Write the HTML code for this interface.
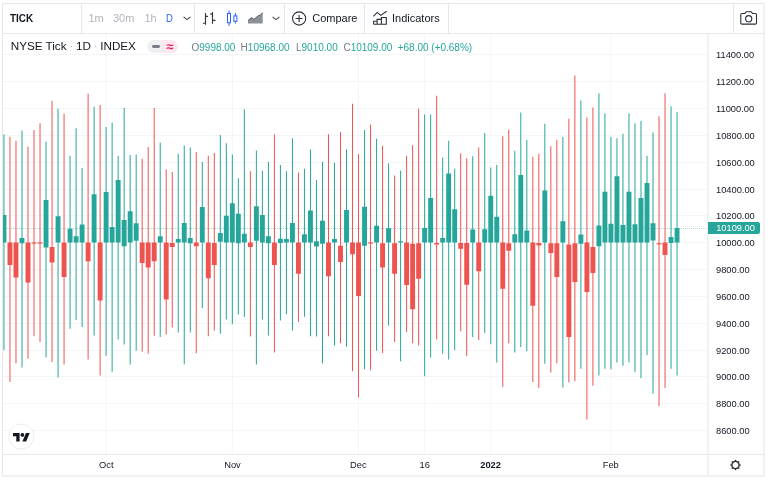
<!DOCTYPE html>
<html><head><meta charset="utf-8"><title>NYSE Tick chart</title>
<style>
html,body{margin:0;padding:0;background:#fff;}
body{width:768px;height:481px;overflow:hidden;position:relative;font-family:"Liberation Sans",Arial,sans-serif;color:#131722;}
.a{position:absolute;white-space:nowrap;}
.ln{position:absolute;background:#e6e7ea;}
.l2{background:#f0f1f3;}
.tb{font-size:11px;line-height:13px;}
.lg{font-size:11.7px;line-height:13px;}
.px{font-size:9.3px;line-height:11px;color:#131722;}
.tx{font-size:9.3px;line-height:11px;color:#131722;}
svg{position:absolute;left:0;top:0;overflow:visible;}
</style></head>
<body>
<!-- chart pane -->
<svg width="768" height="481" viewBox="0 0 768 481" style="left:0;top:0">
<defs><clipPath id="cp"><rect x="3" y="34" width="705" height="420"/></clipPath></defs>
<g clip-path="url(#cp)">
<rect x="3" y="54" width="705" height="1" fill="#f4f5f7"/>
<rect x="3" y="81" width="705" height="1" fill="#f4f5f7"/>
<rect x="3" y="108" width="705" height="1" fill="#f4f5f7"/>
<rect x="3" y="135" width="705" height="1" fill="#f4f5f7"/>
<rect x="3" y="162" width="705" height="1" fill="#f4f5f7"/>
<rect x="3" y="189" width="705" height="1" fill="#f4f5f7"/>
<rect x="3" y="215" width="705" height="1" fill="#f4f5f7"/>
<rect x="3" y="242" width="705" height="1" fill="#f4f5f7"/>
<rect x="3" y="269" width="705" height="1" fill="#f4f5f7"/>
<rect x="3" y="296" width="705" height="1" fill="#f4f5f7"/>
<rect x="3" y="323" width="705" height="1" fill="#f4f5f7"/>
<rect x="3" y="350" width="705" height="1" fill="#f4f5f7"/>
<rect x="3" y="376" width="705" height="1" fill="#f4f5f7"/>
<rect x="3" y="403" width="705" height="1" fill="#f4f5f7"/>
<rect x="3" y="430" width="705" height="1" fill="#f4f5f7"/>
<rect x="105.62" y="34" width="1" height="420" fill="#f4f5f7"/>
<rect x="231.83" y="34" width="1" height="420" fill="#f4f5f7"/>
<rect x="358.03" y="34" width="1" height="420" fill="#f4f5f7"/>
<rect x="424.14" y="34" width="1" height="420" fill="#f4f5f7"/>
<rect x="490.25" y="34" width="1" height="420" fill="#f4f5f7"/>
<rect x="610.44" y="34" width="1" height="420" fill="#f4f5f7"/>
<line x1="3" y1="228.5" x2="708" y2="228.5" stroke="#26a69a" stroke-width="1" stroke-dasharray="1 1" opacity="0.4"/>
<rect x="3.46" y="134.50" width="1" height="215.50" fill="#26a69a"/>
<rect x="1.51" y="215.00" width="4.9" height="27.50" fill="#26a69a"/>
<rect x="9.47" y="136.75" width="1" height="245.25" fill="#ef5350"/>
<rect x="7.52" y="242.50" width="4.9" height="22.50" fill="#ef5350"/>
<rect x="15.48" y="140.75" width="1" height="222.50" fill="#ef5350"/>
<rect x="13.53" y="242.50" width="4.9" height="35.00" fill="#ef5350"/>
<rect x="21.49" y="130.50" width="1" height="237.00" fill="#26a69a"/>
<rect x="19.54" y="238.00" width="4.9" height="5.25" fill="#26a69a"/>
<rect x="27.5" y="146.75" width="1" height="212.00" fill="#ef5350"/>
<rect x="25.55" y="242.50" width="4.9" height="40.00" fill="#ef5350"/>
<rect x="33.51" y="130.00" width="1" height="206.25" fill="#ef5350"/>
<rect x="31.56" y="242.40" width="4.9" height="1.20" fill="#ef5350"/>
<rect x="39.52" y="123.25" width="1" height="218.75" fill="#ef5350"/>
<rect x="37.57" y="242.40" width="4.9" height="1.20" fill="#ef5350"/>
<rect x="45.53" y="141.75" width="1" height="215.75" fill="#26a69a"/>
<rect x="43.58" y="200.00" width="4.9" height="47.50" fill="#26a69a"/>
<rect x="51.54" y="100.75" width="1" height="261.25" fill="#ef5350"/>
<rect x="49.59" y="247.00" width="4.9" height="15.50" fill="#ef5350"/>
<rect x="57.55" y="108.75" width="1" height="268.75" fill="#26a69a"/>
<rect x="55.6" y="216.25" width="4.9" height="26.25" fill="#26a69a"/>
<rect x="63.56" y="113.75" width="1" height="250.75" fill="#ef5350"/>
<rect x="61.61" y="242.50" width="4.9" height="34.50" fill="#ef5350"/>
<rect x="69.57" y="155.75" width="1" height="173.00" fill="#26a69a"/>
<rect x="67.62" y="228.75" width="4.9" height="13.75" fill="#26a69a"/>
<rect x="75.58" y="128.25" width="1" height="191.75" fill="#26a69a"/>
<rect x="73.63" y="236.25" width="4.9" height="6.25" fill="#26a69a"/>
<rect x="81.59" y="168.00" width="1" height="159.00" fill="#26a69a"/>
<rect x="79.64" y="224.50" width="4.9" height="18.00" fill="#26a69a"/>
<rect x="87.6" y="93.75" width="1" height="265.75" fill="#ef5350"/>
<rect x="85.65" y="242.50" width="4.9" height="18.75" fill="#ef5350"/>
<rect x="93.61" y="106.75" width="1" height="228.75" fill="#26a69a"/>
<rect x="91.66" y="194.25" width="4.9" height="48.25" fill="#26a69a"/>
<rect x="99.62" y="105.00" width="1" height="270.50" fill="#ef5350"/>
<rect x="97.67" y="242.50" width="4.9" height="58.00" fill="#ef5350"/>
<rect x="105.62" y="127.00" width="1" height="228.75" fill="#26a69a"/>
<rect x="103.67" y="192.00" width="4.9" height="50.50" fill="#26a69a"/>
<rect x="111.63" y="122.50" width="1" height="249.25" fill="#26a69a"/>
<rect x="109.68" y="227.00" width="4.9" height="15.50" fill="#26a69a"/>
<rect x="117.64" y="155.75" width="1" height="183.75" fill="#26a69a"/>
<rect x="115.69" y="180.00" width="4.9" height="62.50" fill="#26a69a"/>
<rect x="123.65" y="108.00" width="1" height="236.50" fill="#26a69a"/>
<rect x="121.7" y="220.00" width="4.9" height="26.25" fill="#26a69a"/>
<rect x="129.66" y="155.00" width="1" height="209.50" fill="#26a69a"/>
<rect x="127.71" y="211.25" width="4.9" height="31.25" fill="#26a69a"/>
<rect x="135.67" y="154.50" width="1" height="196.25" fill="#26a69a"/>
<rect x="133.72" y="223.25" width="4.9" height="17.50" fill="#26a69a"/>
<rect x="141.68" y="158.75" width="1" height="193.00" fill="#ef5350"/>
<rect x="139.73" y="242.50" width="4.9" height="20.50" fill="#ef5350"/>
<rect x="147.69" y="147.00" width="1" height="206.75" fill="#ef5350"/>
<rect x="145.74" y="242.50" width="4.9" height="25.00" fill="#ef5350"/>
<rect x="153.7" y="108.00" width="1" height="227.75" fill="#ef5350"/>
<rect x="151.75" y="242.50" width="4.9" height="18.75" fill="#ef5350"/>
<rect x="159.71" y="142.50" width="1" height="194.50" fill="#26a69a"/>
<rect x="157.76" y="236.25" width="4.9" height="6.25" fill="#26a69a"/>
<rect x="165.72" y="169.50" width="1" height="165.00" fill="#ef5350"/>
<rect x="163.77" y="242.50" width="4.9" height="57.00" fill="#ef5350"/>
<rect x="171.73" y="172.00" width="1" height="155.50" fill="#ef5350"/>
<rect x="169.78" y="243.00" width="4.9" height="4.00" fill="#ef5350"/>
<rect x="177.74" y="153.75" width="1" height="178.75" fill="#26a69a"/>
<rect x="175.79" y="239.00" width="4.9" height="3.50" fill="#26a69a"/>
<rect x="183.75" y="145.50" width="1" height="218.75" fill="#26a69a"/>
<rect x="181.8" y="223.00" width="4.9" height="19.50" fill="#26a69a"/>
<rect x="189.76" y="147.50" width="1" height="185.00" fill="#26a69a"/>
<rect x="187.81" y="238.00" width="4.9" height="5.25" fill="#26a69a"/>
<rect x="195.77" y="152.00" width="1" height="201.25" fill="#ef5350"/>
<rect x="193.82" y="242.50" width="4.9" height="3.75" fill="#ef5350"/>
<rect x="201.78" y="162.00" width="1" height="146.00" fill="#26a69a"/>
<rect x="199.83" y="207.00" width="4.9" height="35.50" fill="#26a69a"/>
<rect x="207.79" y="155.75" width="1" height="180.50" fill="#ef5350"/>
<rect x="205.84" y="242.50" width="4.9" height="35.75" fill="#ef5350"/>
<rect x="213.8" y="153.00" width="1" height="177.50" fill="#ef5350"/>
<rect x="211.85" y="243.00" width="4.9" height="22.00" fill="#ef5350"/>
<rect x="219.81" y="135.00" width="1" height="198.75" fill="#26a69a"/>
<rect x="217.86" y="233.00" width="4.9" height="8.75" fill="#26a69a"/>
<rect x="225.82" y="143.25" width="1" height="176.25" fill="#26a69a"/>
<rect x="223.87" y="215.75" width="4.9" height="26.75" fill="#26a69a"/>
<rect x="231.83" y="154.50" width="1" height="169.75" fill="#26a69a"/>
<rect x="229.88" y="203.25" width="4.9" height="39.25" fill="#26a69a"/>
<rect x="237.84" y="178.25" width="1" height="136.25" fill="#26a69a"/>
<rect x="235.89" y="213.75" width="4.9" height="29.50" fill="#26a69a"/>
<rect x="243.85" y="109.25" width="1" height="207.75" fill="#26a69a"/>
<rect x="241.9" y="233.75" width="4.9" height="8.75" fill="#26a69a"/>
<rect x="249.86" y="171.25" width="1" height="165.25" fill="#ef5350"/>
<rect x="247.91" y="242.50" width="4.9" height="4.50" fill="#ef5350"/>
<rect x="255.87" y="150.50" width="1" height="214.00" fill="#26a69a"/>
<rect x="253.92" y="206.25" width="4.9" height="34.50" fill="#26a69a"/>
<rect x="261.88" y="170.75" width="1" height="148.75" fill="#26a69a"/>
<rect x="259.93" y="215.00" width="4.9" height="27.50" fill="#26a69a"/>
<rect x="267.89" y="161.75" width="1" height="173.75" fill="#26a69a"/>
<rect x="265.94" y="236.25" width="4.9" height="7.00" fill="#26a69a"/>
<rect x="273.9" y="134.50" width="1" height="218.00" fill="#ef5350"/>
<rect x="271.95" y="242.50" width="4.9" height="22.50" fill="#ef5350"/>
<rect x="279.91" y="165.00" width="1" height="155.50" fill="#26a69a"/>
<rect x="277.96" y="238.75" width="4.9" height="4.25" fill="#26a69a"/>
<rect x="285.92" y="171.25" width="1" height="143.00" fill="#26a69a"/>
<rect x="283.97" y="239.00" width="4.9" height="3.50" fill="#26a69a"/>
<rect x="291.93" y="138.25" width="1" height="192.25" fill="#26a69a"/>
<rect x="289.98" y="223.00" width="4.9" height="19.50" fill="#26a69a"/>
<rect x="297.94" y="172.50" width="1" height="149.50" fill="#ef5350"/>
<rect x="295.99" y="242.50" width="4.9" height="31.25" fill="#ef5350"/>
<rect x="303.94" y="168.75" width="1" height="148.00" fill="#26a69a"/>
<rect x="301.99" y="234.25" width="4.9" height="8.25" fill="#26a69a"/>
<rect x="309.95" y="149.50" width="1" height="186.75" fill="#26a69a"/>
<rect x="308.0" y="210.50" width="4.9" height="32.00" fill="#26a69a"/>
<rect x="315.96" y="180.00" width="1" height="156.50" fill="#26a69a"/>
<rect x="314.01" y="241.25" width="4.9" height="5.25" fill="#26a69a"/>
<rect x="321.97" y="161.75" width="1" height="201.50" fill="#26a69a"/>
<rect x="320.02" y="220.75" width="4.9" height="23.00" fill="#26a69a"/>
<rect x="327.98" y="134.25" width="1" height="202.00" fill="#ef5350"/>
<rect x="326.03" y="242.50" width="4.9" height="33.75" fill="#ef5350"/>
<rect x="333.99" y="162.50" width="1" height="183.00" fill="#26a69a"/>
<rect x="332.04" y="239.00" width="4.9" height="3.50" fill="#26a69a"/>
<rect x="340.0" y="132.00" width="1" height="211.25" fill="#ef5350"/>
<rect x="338.05" y="245.75" width="4.9" height="16.25" fill="#ef5350"/>
<rect x="346.01" y="149.50" width="1" height="197.25" fill="#26a69a"/>
<rect x="344.06" y="210.00" width="4.9" height="32.50" fill="#26a69a"/>
<rect x="352.02" y="103.75" width="1" height="267.50" fill="#ef5350"/>
<rect x="350.07" y="242.50" width="4.9" height="11.75" fill="#ef5350"/>
<rect x="358.03" y="154.25" width="1" height="243.25" fill="#ef5350"/>
<rect x="356.08" y="242.50" width="4.9" height="53.50" fill="#ef5350"/>
<rect x="364.04" y="130.00" width="1" height="239.25" fill="#26a69a"/>
<rect x="362.09" y="206.75" width="4.9" height="39.00" fill="#26a69a"/>
<rect x="370.05" y="124.50" width="1" height="246.00" fill="#ef5350"/>
<rect x="368.1" y="242.40" width="4.9" height="1.20" fill="#ef5350"/>
<rect x="376.06" y="138.75" width="1" height="212.00" fill="#26a69a"/>
<rect x="374.11" y="225.75" width="4.9" height="16.75" fill="#26a69a"/>
<rect x="382.07" y="145.75" width="1" height="207.25" fill="#ef5350"/>
<rect x="380.12" y="243.25" width="4.9" height="24.25" fill="#ef5350"/>
<rect x="388.08" y="163.25" width="1" height="162.25" fill="#26a69a"/>
<rect x="386.13" y="228.25" width="4.9" height="14.25" fill="#26a69a"/>
<rect x="394.09" y="175.50" width="1" height="166.50" fill="#ef5350"/>
<rect x="392.14" y="243.25" width="4.9" height="30.50" fill="#ef5350"/>
<rect x="400.1" y="170.75" width="1" height="190.50" fill="#26a69a"/>
<rect x="398.15" y="241.25" width="4.9" height="1.25" fill="#26a69a"/>
<rect x="406.11" y="155.75" width="1" height="176.25" fill="#ef5350"/>
<rect x="404.16" y="242.50" width="4.9" height="42.50" fill="#ef5350"/>
<rect x="412.12" y="145.00" width="1" height="198.25" fill="#ef5350"/>
<rect x="410.17" y="243.75" width="4.9" height="65.50" fill="#ef5350"/>
<rect x="418.13" y="108.75" width="1" height="236.75" fill="#ef5350"/>
<rect x="416.18" y="243.25" width="4.9" height="35.50" fill="#ef5350"/>
<rect x="424.14" y="114.50" width="1" height="261.75" fill="#26a69a"/>
<rect x="422.19" y="228.00" width="4.9" height="14.50" fill="#26a69a"/>
<rect x="430.15" y="114.50" width="1" height="243.00" fill="#26a69a"/>
<rect x="428.2" y="198.00" width="4.9" height="44.50" fill="#26a69a"/>
<rect x="436.16" y="95.75" width="1" height="243.75" fill="#ef5350"/>
<rect x="434.21" y="243.00" width="4.9" height="1.50" fill="#ef5350"/>
<rect x="442.17" y="157.50" width="1" height="196.25" fill="#26a69a"/>
<rect x="440.22" y="238.00" width="4.9" height="4.50" fill="#26a69a"/>
<rect x="448.18" y="140.75" width="1" height="218.75" fill="#26a69a"/>
<rect x="446.23" y="173.50" width="4.9" height="69.00" fill="#26a69a"/>
<rect x="454.19" y="168.75" width="1" height="181.25" fill="#26a69a"/>
<rect x="452.24" y="209.25" width="4.9" height="33.25" fill="#26a69a"/>
<rect x="460.2" y="153.25" width="1" height="178.00" fill="#ef5350"/>
<rect x="458.25" y="243.00" width="4.9" height="5.75" fill="#ef5350"/>
<rect x="466.21" y="158.25" width="1" height="198.00" fill="#ef5350"/>
<rect x="464.26" y="243.00" width="4.9" height="41.75" fill="#ef5350"/>
<rect x="472.22" y="156.25" width="1" height="180.75" fill="#26a69a"/>
<rect x="470.27" y="229.50" width="4.9" height="13.00" fill="#26a69a"/>
<rect x="478.23" y="147.50" width="1" height="192.50" fill="#ef5350"/>
<rect x="476.28" y="242.50" width="4.9" height="28.75" fill="#ef5350"/>
<rect x="484.24" y="133.00" width="1" height="200.00" fill="#26a69a"/>
<rect x="482.29" y="229.25" width="4.9" height="13.25" fill="#26a69a"/>
<rect x="490.25" y="167.50" width="1" height="176.75" fill="#26a69a"/>
<rect x="488.3" y="195.75" width="4.9" height="46.75" fill="#26a69a"/>
<rect x="496.26" y="165.00" width="1" height="197.50" fill="#26a69a"/>
<rect x="494.31" y="216.75" width="4.9" height="25.75" fill="#26a69a"/>
<rect x="502.27" y="136.25" width="1" height="250.75" fill="#ef5350"/>
<rect x="500.32" y="242.50" width="4.9" height="46.25" fill="#ef5350"/>
<rect x="508.27" y="129.50" width="1" height="213.75" fill="#ef5350"/>
<rect x="506.32" y="243.25" width="4.9" height="7.50" fill="#ef5350"/>
<rect x="514.28" y="150.75" width="1" height="201.75" fill="#26a69a"/>
<rect x="512.33" y="234.25" width="4.9" height="8.25" fill="#26a69a"/>
<rect x="520.29" y="112.50" width="1" height="234.50" fill="#26a69a"/>
<rect x="518.34" y="175.00" width="4.9" height="67.50" fill="#26a69a"/>
<rect x="526.3" y="140.00" width="1" height="211.25" fill="#26a69a"/>
<rect x="524.35" y="230.50" width="4.9" height="12.00" fill="#26a69a"/>
<rect x="532.31" y="156.75" width="1" height="225.25" fill="#ef5350"/>
<rect x="530.36" y="242.50" width="4.9" height="63.25" fill="#ef5350"/>
<rect x="538.32" y="153.75" width="1" height="234.25" fill="#ef5350"/>
<rect x="536.37" y="243.00" width="4.9" height="2.50" fill="#ef5350"/>
<rect x="544.33" y="123.75" width="1" height="240.00" fill="#26a69a"/>
<rect x="542.38" y="190.50" width="4.9" height="52.00" fill="#26a69a"/>
<rect x="550.34" y="146.25" width="1" height="226.25" fill="#ef5350"/>
<rect x="548.39" y="243.25" width="4.9" height="9.75" fill="#ef5350"/>
<rect x="556.35" y="140.00" width="1" height="223.25" fill="#ef5350"/>
<rect x="554.4" y="243.25" width="4.9" height="33.75" fill="#ef5350"/>
<rect x="562.36" y="137.00" width="1" height="250.50" fill="#26a69a"/>
<rect x="560.41" y="221.25" width="4.9" height="21.25" fill="#26a69a"/>
<rect x="568.37" y="118.75" width="1" height="263.75" fill="#ef5350"/>
<rect x="566.42" y="244.50" width="4.9" height="92.50" fill="#ef5350"/>
<rect x="574.38" y="75.50" width="1" height="305.75" fill="#ef5350"/>
<rect x="572.43" y="243.25" width="4.9" height="38.75" fill="#ef5350"/>
<rect x="580.39" y="100.50" width="1" height="268.25" fill="#26a69a"/>
<rect x="578.44" y="234.50" width="4.9" height="9.25" fill="#26a69a"/>
<rect x="586.4" y="117.50" width="1" height="302.00" fill="#ef5350"/>
<rect x="584.45" y="242.50" width="4.9" height="49.50" fill="#ef5350"/>
<rect x="592.41" y="107.50" width="1" height="278.25" fill="#ef5350"/>
<rect x="590.46" y="247.00" width="4.9" height="26.00" fill="#ef5350"/>
<rect x="598.42" y="93.25" width="1" height="282.25" fill="#26a69a"/>
<rect x="596.47" y="225.50" width="4.9" height="20.75" fill="#26a69a"/>
<rect x="604.43" y="113.25" width="1" height="255.50" fill="#26a69a"/>
<rect x="602.48" y="191.75" width="4.9" height="50.75" fill="#26a69a"/>
<rect x="610.44" y="137.00" width="1" height="232.25" fill="#26a69a"/>
<rect x="608.49" y="223.75" width="4.9" height="18.75" fill="#26a69a"/>
<rect x="616.45" y="138.25" width="1" height="224.25" fill="#26a69a"/>
<rect x="614.5" y="176.25" width="4.9" height="66.25" fill="#26a69a"/>
<rect x="622.46" y="133.75" width="1" height="232.00" fill="#26a69a"/>
<rect x="620.51" y="225.00" width="4.9" height="17.50" fill="#26a69a"/>
<rect x="628.47" y="113.25" width="1" height="249.25" fill="#26a69a"/>
<rect x="626.52" y="191.75" width="4.9" height="50.75" fill="#26a69a"/>
<rect x="634.48" y="123.25" width="1" height="248.75" fill="#26a69a"/>
<rect x="632.53" y="224.25" width="4.9" height="18.25" fill="#26a69a"/>
<rect x="640.49" y="120.75" width="1" height="257.50" fill="#26a69a"/>
<rect x="638.54" y="198.00" width="4.9" height="44.50" fill="#26a69a"/>
<rect x="646.5" y="155.75" width="1" height="199.25" fill="#26a69a"/>
<rect x="644.55" y="183.00" width="4.9" height="59.50" fill="#26a69a"/>
<rect x="652.51" y="132.50" width="1" height="261.25" fill="#26a69a"/>
<rect x="650.56" y="223.25" width="4.9" height="17.25" fill="#26a69a"/>
<rect x="658.52" y="116.25" width="1" height="290.00" fill="#ef5350"/>
<rect x="656.57" y="243.15" width="4.9" height="1.20" fill="#ef5350"/>
<rect x="664.53" y="93.25" width="1" height="294.75" fill="#ef5350"/>
<rect x="662.58" y="242.50" width="4.9" height="12.50" fill="#ef5350"/>
<rect x="670.54" y="106.25" width="1" height="262.50" fill="#26a69a"/>
<rect x="668.59" y="237.00" width="4.9" height="6.00" fill="#26a69a"/>
<rect x="676.55" y="112.00" width="1" height="263.50" fill="#26a69a"/>
<rect x="674.6" y="228.00" width="4.9" height="14.50" fill="#26a69a"/>
</g>
</svg>

<!-- frame lines -->
<div class="ln" style="left:2px;top:3px;width:762px;height:1px"></div>
<div class="ln l2" style="left:2px;top:475px;width:763px;height:2px"></div>
<div class="ln" style="left:2px;top:3px;width:1px;height:473px"></div>
<div class="ln l2" style="left:763px;top:3px;width:2px;height:474px"></div>
<div class="ln" style="left:2px;top:33px;width:762px;height:1px"></div>
<div class="ln" style="left:2px;top:454px;width:762px;height:1px"></div>
<div class="ln l2" style="left:707px;top:34px;width:2px;height:442px"></div>
<div class="ln" style="left:81px;top:3px;width:1px;height:30px"></div>
<div class="ln" style="left:194px;top:3px;width:1px;height:30px"></div>
<div class="ln" style="left:284px;top:3px;width:1px;height:30px"></div>
<div class="ln" style="left:364px;top:3px;width:1px;height:30px"></div>
<div class="ln" style="left:448px;top:3px;width:1px;height:30px"></div>
<div class="ln" style="left:733px;top:3px;width:1px;height:30px"></div>

<!-- toolbar text -->
<div class="a tb" style="left:10.3px;top:12px;font-weight:bold;transform:scaleX(0.905);transform-origin:0 0">TICK</div>
<div class="a tb" style="left:88.5px;top:12px;color:#b2b5be">1m</div>
<div class="a tb" style="left:113px;top:12px;color:#b2b5be">30m</div>
<div class="a tb" style="left:144.4px;top:12px;color:#b2b5be">1h</div>
<div class="a tb" style="left:166px;top:12px;color:#2962ff;transform:scaleX(0.86);transform-origin:0 0">D</div>
<div class="a tb" style="left:312.2px;top:12px">Compare</div>
<div class="a tb" style="left:392px;top:12px">Indicators</div>

<!-- toolbar icons -->
<svg width="768" height="40" viewBox="0 0 768 40">
<g fill="none" stroke="#50535e" stroke-width="1.1" stroke-linecap="round">
<path d="M184 17.2L187 19.6L190 17.2"/>
<path d="M273 17.2L276 19.6L279 17.2"/>
</g>
<g fill="none" stroke="#33363f" stroke-width="1.15">
<path d="M205.5 12.9V24.75M203 23.2H205.5M205.5 16.3H208"/>
<path d="M212.5 11.9V23.8M210.2 14.1H212.5M212.5 20.4H215.5"/>
</g>
<g fill="none" stroke="#2962ff" stroke-width="1">
<rect x="227.5" y="13.4" width="3" height="9.4"/>
<path d="M229 10.7V13.4M229 22.8V26"/>
<rect x="233.9" y="15.9" width="3" height="5.4"/>
<path d="M235.4 12.9V15.9M235.4 21.3V23.5"/>
</g>
<path d="M248 20.8L251.5 17.8L254 19.6L258.5 15.8L260 15.6L262.7 12.6V23.5H248Z" fill="#8e9099"/>
<path d="M248 20.5L251.5 17.6L254 19.4L258.5 15.5L260 15.3L262.7 12.6" fill="none" stroke="#50535e" stroke-width="1"/>
<g fill="none" stroke="#2a2e39" stroke-width="1.1">
<circle cx="299.1" cy="18.5" r="6.6"/>
<path d="M295.6 18.5H302.6M299.1 15V22"/>
</g>
<g fill="none" stroke="#2a2e39" stroke-width="1.1">
<path d="M373.4 16.3L377.2 12.4L380.7 15.4L386.6 11.3"/>
<path d="M373.6 24.2V21.2H377.1V24.2M377.1 24.2V19.4H381.4V24.2M381.4 24.2V17.5H386.3V24.2H373.6Z"/>
</g>
<g fill="none" stroke="#2a2e39" stroke-width="1.1">
<path d="M742 13.5H744.9L746.1 11.7H751.3L752.5 13.5H755.3Q756.5 13.5 756.5 14.7V22.9Q756.5 24.1 755.3 24.1H742Q740.8 24.1 740.8 22.9V14.7Q740.8 13.5 742 13.5Z"/>
<circle cx="748.7" cy="18.7" r="3.1"/>
</g>
</svg>

<!-- legend -->
<div class="a lg" style="left:10.7px;top:39px">NYSE Tick</div>
<div class="a lg" style="left:69.5px;top:39px;color:#b8bbc3">·</div>
<div class="a lg" style="left:76px;top:39px">1D</div>
<div class="a lg" style="left:93.8px;top:39px;color:#b8bbc3">·</div>
<div class="a lg" style="left:100.2px;top:39px">INDEX</div>
<div class="a" style="left:147px;top:39.6px;width:15px;height:13.6px;background:#eff0f3;border-radius:7px 0 0 7px"></div>
<div class="a" style="left:162px;top:39.6px;width:16px;height:13.6px;background:#fde7ee;border-radius:0 7px 7px 0"></div>
<div class="a" style="left:152px;top:44.9px;width:7.6px;height:2.7px;background:#7a7c85;border-radius:1.4px"></div>
<div class="a" style="left:166.2px;top:38.6px;font-size:13px;line-height:15px;color:#e91e63;font-weight:bold">≈</div>
<div class="a lg" style="left:191.5px;top:41px;font-size:10px;color:#787b86">O<span style="color:#26a69a">9998.00</span></div>
<div class="a lg" style="left:240.6px;top:41px;font-size:10px;color:#787b86">H<span style="color:#26a69a">10968.00</span></div>
<div class="a lg" style="left:296px;top:41px;font-size:10px;color:#787b86">L<span style="color:#26a69a">9010.00</span></div>
<div class="a lg" style="left:343.4px;top:41px;font-size:10px;color:#787b86">C<span style="color:#26a69a">10109.00</span></div>
<div class="a lg" style="left:397.7px;top:41px;font-size:10px;color:#26a69a">+68.00</div>
<div class="a lg" style="left:431.3px;top:41px;font-size:10px;color:#26a69a">(+0.68%)</div>

<!-- price axis -->
<div class="a px" style="left:716px;top:50.40px">11400.00</div>
<div class="a px" style="left:716px;top:77.24px">11200.00</div>
<div class="a px" style="left:716px;top:104.08px">11000.00</div>
<div class="a px" style="left:716px;top:130.92px">10800.00</div>
<div class="a px" style="left:716px;top:157.76px">10600.00</div>
<div class="a px" style="left:716px;top:184.60px">10400.00</div>
<div class="a px" style="left:716px;top:211.44px">10200.00</div>
<div class="a px" style="left:716px;top:238.28px">10000.00</div>
<div class="a px" style="left:716px;top:265.12px">9800.00</div>
<div class="a px" style="left:716px;top:291.96px">9600.00</div>
<div class="a px" style="left:716px;top:318.80px">9400.00</div>
<div class="a px" style="left:716px;top:345.64px">9200.00</div>
<div class="a px" style="left:716px;top:372.48px">9000.00</div>
<div class="a px" style="left:716px;top:399.32px">8800.00</div>
<div class="a px" style="left:716px;top:426.16px">8600.00</div>
<div class="a" style="left:708px;top:221.8px;width:52px;height:12.7px;background:#26a69a;border-radius:0 2px 2px 0"></div>
<div class="a px" style="left:716.2px;top:222.7px;color:#fff">10109.00</div>

<!-- time axis -->
<div class="a tx" style="left:76.25px;width:60px;text-align:center;top:459.5px;">Oct</div>
<div class="a tx" style="left:202.50px;width:60px;text-align:center;top:459.5px;">Nov</div>
<div class="a tx" style="left:328.40px;width:60px;text-align:center;top:459.5px;">Dec</div>
<div class="a tx" style="left:394.75px;width:60px;text-align:center;top:459.5px;">16</div>
<div class="a tx" style="left:460.60px;width:60px;text-align:center;top:459.5px;font-weight:bold;">2022</div>
<div class="a tx" style="left:580.75px;width:60px;text-align:center;top:459.5px;">Feb</div>

<!-- logo -->
<svg width="768" height="481" viewBox="0 0 768 481">
<circle cx="21.25" cy="436.6" r="12.6" fill="#fff" stroke="#ececec" stroke-width="1"/>
<g transform="translate(13 431.2) scale(0.47)" fill="#131722">
<path d="M14 22H7V11H0V4h14v18zM28 22h-8l7.5-18h8L28 22z"/><circle cx="20" cy="8" r="4"/>
</g>
<!-- gear -->
<g transform="translate(735.5 465)">
<circle cx="0" cy="0" r="3.6" fill="none" stroke="#2a2e39" stroke-width="1.3"/>
<path d="M1.20 -3.90L0.00 -5.60L-1.20 -3.90Z" fill="#2a2e39"/>
<path d="M3.61 -1.91L3.96 -3.96L1.91 -3.61Z" fill="#2a2e39"/>
<path d="M3.90 1.20L5.60 0.00L3.90 -1.20Z" fill="#2a2e39"/>
<path d="M1.91 3.61L3.96 3.96L3.61 1.91Z" fill="#2a2e39"/>
<path d="M-1.20 3.90L0.00 5.60L1.20 3.90Z" fill="#2a2e39"/>
<path d="M-3.61 1.91L-3.96 3.96L-1.91 3.61Z" fill="#2a2e39"/>
<path d="M-3.90 -1.20L-5.60 0.00L-3.90 1.20Z" fill="#2a2e39"/>
<path d="M-1.91 -3.61L-3.96 -3.96L-3.61 -1.91Z" fill="#2a2e39"/>
</g>
</svg>
</body></html>
